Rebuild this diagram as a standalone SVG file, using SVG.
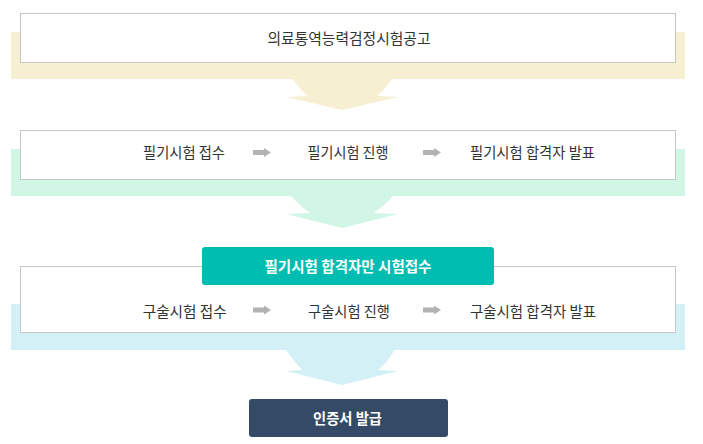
<svg xmlns="http://www.w3.org/2000/svg" width="703" height="444" viewBox="0 0 703 444">
<style>
.t{font-family:"Noto Sans CJK KR","Noto Sans",sans-serif;font-size:15px;fill:#333;text-anchor:middle}
.w{font-family:"Noto Sans CJK KR","Noto Sans",sans-serif;font-size:15px;fill:#fff;font-weight:bold;text-anchor:middle}
.box{fill:#fff;stroke:#c6c6c6;stroke-width:1}
.y{fill:#f7efd1}.g{fill:#d2f6e5}.b{fill:#d2f0f5}
.ar{fill:#b3b3b3}
</style>
<defs>
<path id="ga" d="M0,-2.5 H11 V-4.5 L18,0 L11,4.5 V2.5 H0 Z"/>
</defs>
<g id="connectors">
<rect class="y" x="11" y="32" width="674" height="47"/>
<path class="y" d="M292,78 Q300,89 307,96 L286,97 L342,110 L398,97 L377,96 Q385,89 393,78 Z"/>
<rect class="g" x="11" y="149" width="674" height="47"/>
<path class="g" d="M290,195 Q300,206 310,213 L286,214 L342,228 L398,214 L374,213 Q384,206 394,195 Z"/>
<rect class="b" x="11" y="304" width="674" height="46"/>
<path class="b" d="M285,349 Q295,362 302,370 L286,371 L342,385 L398,371 L378,370 Q388,362 395,349 Z"/>
</g>
<g id="node-notice">
<rect class="box" x="20.5" y="13.5" width="655" height="49"/>
<text class="t" x="349" y="43.5" textLength="163" lengthAdjust="spacingAndGlyphs">의료통역능력검정시험공고</text>
</g>
<g id="node-written">
<rect class="box" x="20.5" y="130.5" width="655" height="49"/>
<text class="t" x="184" y="157.5" textLength="82" lengthAdjust="spacingAndGlyphs">필기시험 접수</text>
<use href="#ga" class="ar" x="253" y="152.5"/>
<text class="t" x="348" y="157.5" textLength="81" lengthAdjust="spacingAndGlyphs">필기시험 진행</text>
<use href="#ga" class="ar" x="423" y="152.5"/>
<text class="t" x="532.5" y="157.5" textLength="125" lengthAdjust="spacingAndGlyphs">필기시험 합격자 발표</text>
</g>
<g id="node-oral">
<rect class="box" x="20.5" y="266.5" width="655" height="66"/>
<text class="t" x="184.7" y="316.5" textLength="84" lengthAdjust="spacingAndGlyphs">구술시험 접수</text>
<use href="#ga" class="ar" x="253" y="310"/>
<text class="t" x="349" y="316.5" textLength="82" lengthAdjust="spacingAndGlyphs">구술시험 진행</text>
<use href="#ga" class="ar" x="423" y="310"/>
<text class="t" x="533" y="316.5" textLength="126" lengthAdjust="spacingAndGlyphs">구술시험 합격자 발표</text>
</g>
<g id="node-pass-only">
<rect x="202" y="247" width="292" height="38" rx="3" fill="#00bdb1"/>
<text class="w" x="348" y="272" textLength="167" lengthAdjust="spacingAndGlyphs">필기시험 합격자만 시험접수</text>
</g>
<g id="node-certificate">
<rect x="249" y="399" width="199" height="38" rx="3" fill="#344a66"/>
<text class="w" x="347.5" y="424" textLength="69" lengthAdjust="spacingAndGlyphs">인증서 발급</text>
</g>
</svg>
